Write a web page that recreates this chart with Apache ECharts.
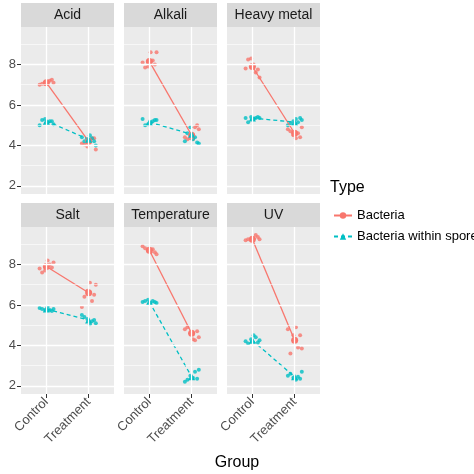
<!DOCTYPE html>
<html><head><meta charset="utf-8">
<script src="https://cdn.jsdelivr.net/npm/echarts@6/dist/echarts.min.js"></script>
<style>html,body{margin:0;background:#fff}#c{width:474px;height:474px}</style>
</head><body><div id="c"></div>
<script>
// facets and groups
const facets = ['Acid', 'Alkali', 'Heavy metal', 'Salt', 'Temperature', 'UV']
const groups = ['Control', 'Treatment']
// jitter offsets around each group position
const jitter = [-0.16, -0.1, -0.03, 0.03, 0.08, 0.13, 0.17]
// raw points per facet: [control, treatment]
const bacteria = [
  [[7.0, 7.05, 7.1, 7.15, 7.2, 7.25, 7.1], [4.1, 4.05, 3.95, 4.2, 4.35, 4.35, 3.8]],
  [[8.1, 7.85, 7.9, 8.6, 8.2, 8.0, 8.6], [4.4, 4.3, 4.35, 4.3, 4.9, 5.0, 4.8]],
  [[7.8, 8.25, 8.3, 8.0, 7.6, 7.75, 7.35], [4.8, 4.7, 4.5, 4.35, 4.6, 4.4, 4.9]],
  [[7.8, 7.6, 7.7, 8.2, 8.0, 7.85, 8.1], [5.9, 6.4, 6.7, 7.1, 6.2, 6.5, 7.0]],
  [[8.9, 8.8, 8.7, 8.6, 8.75, 8.6, 8.5], [4.8, 4.9, 4.6, 4.3, 4.25, 4.7, 4.4]],
  [[9.2, 9.25, 9.2, 9.3, 9.45, 9.35, 9.25], [4.8, 3.6, 4.5, 4.9, 3.9, 4.5, 3.85]],
]
const spores = [
  [[5.0, 5.25, 5.3, 5.15, 5.2, 5.2, 5.05], [4.4, 4.2, 4.3, 4.5, 4.35, 4.2, 4.0]],
  [[5.3, 5.0, 5.05, 5.15, 5.2, 5.25, 5.25], [4.2, 4.6, 4.9, 4.3, 4.4, 4.15, 4.1]],
  [[5.35, 5.15, 5.4, 5.3, 5.35, 5.4, 5.35], [5.0, 5.1, 5.2, 5.3, 5.15, 5.35, 5.25]],
  [[5.85, 5.8, 5.75, 5.9, 5.75, 5.7, 5.8], [5.5, 5.4, 5.3, 5.05, 5.2, 5.25, 5.1]],
  [[6.15, 6.2, 6.25, 6.1, 6.2, 6.15, 6.1], [2.2, 2.3, 2.5, 2.4, 2.7, 2.35, 2.8]],
  [[4.2, 4.1, 4.3, 4.5, 4.4, 4.15, 4.25], [2.5, 2.6, 2.4, 2.3, 2.45, 2.35, 2.7]],
]
// group means
const bacMean = [[7.1, 4.2], [8.15, 4.5], [7.9, 4.6], [7.9, 6.6], [8.7, 4.6], [9.25, 4.25]]
const sporeMean = [[5.2, 4.3], [5.15, 4.55], [5.35, 5.15], [5.8, 5.25], [6.15, 2.45], [4.25, 2.45]]

const RED = '#F8766D', CYAN = '#00BFC4'
const cols = [21, 124, 227], W = 93, H = 167
const tops = [27, 227]

const grids = [], xAxes = [], yAxes = [], series = [], graphics = []
facets.forEach((name, i) => {
  const r = Math.floor(i / 3), c = i % 3
  grids.push({ left: cols[c], top: tops[r], width: W, height: H, show: true, backgroundColor: '#EBEBEB', borderWidth: 0 })
  graphics.push({ type: 'rect', shape: { x: cols[c], y: tops[r] - 24, width: W, height: 24 }, style: { fill: '#D9D9D9' } })
  graphics.push({ type: 'text', x: cols[c] + W / 2, y: tops[r] - 12, style: { text: name, fill: '#1A1A1A', font: '14px Liberation Sans, Arial', textAlign: 'center', textVerticalAlign: 'middle' } })
  xAxes.push({
    type: 'value', gridIndex: i, min: 0.4, max: 2.6,
    axisLine: { show: false }, splitLine: { show: false },
    axisTick: { show: r === 1, customValues: [1, 2], length: 4, lineStyle: { color: '#333' } },
    axisLabel: { show: r === 1, customValues: [1, 2], rotate: 45, color: '#4D4D4D', fontSize: 13, margin: 6,
      formatter: v => groups[v - 1] || '' },
  })
  yAxes.push({
    type: 'value', gridIndex: i, min: 1.6, max: 9.85,
    axisLine: { show: false }, splitLine: { show: false },
    axisTick: { show: c === 0, customValues: [2, 4, 6, 8], length: 4, lineStyle: { color: '#333' } },
    axisLabel: { show: c === 0, customValues: [2, 4, 6, 8], color: '#4D4D4D', fontSize: 13, margin: 5 },
  })
  // gridlines
  const ml = (vals, axis, w) => vals.map(v => ({ [axis]: v, lineStyle: { color: '#fff', width: w, type: 'solid' } }))
  series.push({
    type: 'line', xAxisIndex: i, yAxisIndex: i, data: [], silent: true, z: 0,
    markLine: { symbol: 'none', silent: true, label: { show: false }, animation: false,
      data: [...ml([3, 5, 7, 9], 'yAxis', 0.6), ...ml([2, 4, 6, 8], 'yAxis', 1.3), ...ml([1, 2], 'xAxis', 1.3)] },
  })
  const pts = (arr) => arr.flatMap((g, gi) => g.map((y, k) => [gi + 1 + jitter[k], y]))
  series.push({ type: 'scatter', xAxisIndex: i, yAxisIndex: i, data: pts(bacteria[i]), symbolSize: 4, itemStyle: { color: RED }, z: 3 })
  series.push({ type: 'scatter', xAxisIndex: i, yAxisIndex: i, data: pts(spores[i]), symbolSize: 4, itemStyle: { color: CYAN }, z: 3 })
  series.push({ name: 'Bacteria', type: 'line', xAxisIndex: i, yAxisIndex: i, data: bacMean[i].map((y, g) => [g + 1, y]),
    symbol: 'circle', symbolSize: 7, lineStyle: { color: RED, width: 1.3 }, itemStyle: { color: RED }, z: 4 })
  series.push({ name: 'Bacteria within spores', type: 'line', xAxisIndex: i, yAxisIndex: i, data: sporeMean[i].map((y, g) => [g + 1, y]),
    symbol: 'triangle', symbolSize: 7, lineStyle: { color: CYAN, width: 1.3, type: [4, 3] }, itemStyle: { color: CYAN }, z: 4 })
})
graphics.push({ type: 'text', x: 237, y: 463, style: { text: 'Group', fill: '#000', font: '16px Liberation Sans, Arial', textAlign: 'center', textVerticalAlign: 'middle' } })
graphics.push({ type: 'text', x: 330, y: 188, style: { text: 'Type', fill: '#000', font: '16px Liberation Sans, Arial', textVerticalAlign: 'middle' } })

const chart = echarts.init(document.getElementById('c'))
chart.setOption({
  animation: false,
  grid: grids, xAxis: xAxes, yAxis: yAxes, series, graphic: graphics,
  legend: { data: ['Bacteria', 'Bacteria within spores'], orient: 'vertical', left: 328, top: 204,
    itemWidth: 18, itemHeight: 8, itemGap: 8, textStyle: { fontSize: 13, color: '#000' } },
})
</script></body></html>
